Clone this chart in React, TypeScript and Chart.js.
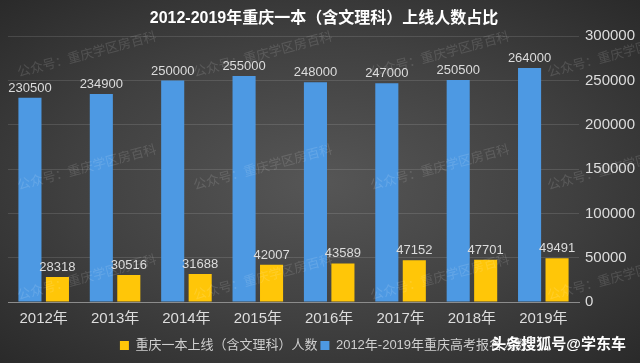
import React, { useEffect, useRef } from "react";
import { Chart, registerables } from "chart.js";

Chart.register(...registerables);

const categories = ["2012年", "2013年", "2014年", "2015年", "2016年", "2017年", "2018年", "2019年"];
const applicants = [230500, 234900, 250000, 255000, 248000, 247000, 250500, 264000];
const firstTier = [28318, 30516, 31688, 42007, 43589, 47152, 47701, 49491];
const applicantsLabel = "2012年-2019年重庆高考报名人数";
const firstTierLabel = "重庆一本上线（含文理科）人数";
const titleText = "2012-2019年重庆一本（含文理科）上线人数占比";
const watermarkText = "公众号：重庆学区房百科";
const watermarkCols = [87, 263, 440, 617];
const watermarkRows = [55, 168, 278];
const cornerMark = "头条搜狐号@学东车";

const FONT = "'Liberation Sans', 'Noto Sans CJK SC', sans-serif";

const valueLabels = {
  id: "valueLabels",
  afterDatasetsDraw(chart: any) {
    const ctx = chart.ctx;
    ctx.save();
    ctx.font = `13px ${FONT}`;
    ctx.fillStyle = "#dcdcdc";
    ctx.textAlign = "center";
    ctx.textBaseline = "bottom";
    chart.data.datasets.forEach((ds: any, i: number) => {
      const meta = chart.getDatasetMeta(i);
      meta.data.forEach((el: any, j: number) => {
        ctx.fillText(String(ds.data[j]), el.x, el.y - 3);
      });
    });
    ctx.restore();
  },
};

const watermarks = {
  id: "watermarks",
  afterDraw(chart: any) {
    const ctx = chart.ctx;
    ctx.save();
    ctx.font = `13px ${FONT}`;
    ctx.fillStyle = "rgba(255,255,255,0.13)";
    ctx.textAlign = "center";
    ctx.textBaseline = "middle";
    watermarkRows.forEach((y) => {
      watermarkCols.forEach((x) => {
        ctx.save();
        ctx.translate(x, y);
        ctx.rotate(-0.26);
        ctx.fillText(watermarkText, 0, 0);
        ctx.restore();
      });
    });
    ctx.font = `bold 15px ${FONT}`;
    ctx.fillStyle = "#ffffff";
    ctx.textAlign = "right";
    ctx.fillText(cornerMark, 626, 345);
    ctx.restore();
  },
};

export default function App() {
  const ref = useRef<HTMLCanvasElement>(null);
  useEffect(() => {
    if (!ref.current) return;
    const chart = new Chart(ref.current, {
      type: "bar",
      data: {
        labels: categories,
        datasets: [
          {
            label: applicantsLabel,
            data: applicants,
            backgroundColor: "#4d99e3",
            categoryPercentage: 0.77,
            barPercentage: 0.84,
          },
          {
            label: firstTierLabel,
            data: firstTier,
            backgroundColor: "#ffc608",
            categoryPercentage: 0.77,
            barPercentage: 0.84,
          },
        ],
      },
      options: {
        responsive: false,
        animation: false,
        devicePixelRatio: 1,
        layout: { padding: { left: 8, right: 0, bottom: 1 } },
        scales: {
          x: {
            grid: { display: false, drawTicks: false },
            border: { display: true, color: "#8c8c8c", width: 1 },
            ticks: { color: "#dddddd", font: { size: 15, family: FONT }, padding: 8 },
          },
          y: {
            position: "right",
            min: 0,
            max: 300000,
            grid: { color: "rgba(255,255,255,0.12)", drawTicks: false },
            border: { display: false },
            ticks: {
              stepSize: 50000,
              color: "#dddddd",
              font: { size: 15, family: FONT },
              padding: 6,
              callback: (v: any) => String(v),
            },
            afterFit: (s: any) => {
              s.width = 61;
            },
          },
        },
        plugins: {
          title: {
            display: true,
            text: titleText,
            color: "#ffffff",
            font: { size: 16, weight: "bold", family: FONT },
            padding: { top: 9, bottom: 8 },
          },
          legend: {
            position: "bottom",
            labels: {
              color: "#cfcfcf",
              boxWidth: 9,
              boxHeight: 9,
              padding: 3,
              font: { size: 13, family: FONT },
              sort: (a: any, b: any) => b.datasetIndex - a.datasetIndex,
            },
          },
          tooltip: { enabled: false },
        },
      },
      plugins: [valueLabels, watermarks],
    });
    return () => chart.destroy();
  }, []);
  return (
    <div
      style={{
        position: "fixed",
        left: 0,
        top: 0,
        width: 640,
        height: 363,
        background: "radial-gradient(ellipse at 50% 50%, #565656 0%, #404040 55%, #2a2a2a 100%)",
      }}
    >
      <canvas ref={ref} width={640} height={363} />
    </div>
  );
}
